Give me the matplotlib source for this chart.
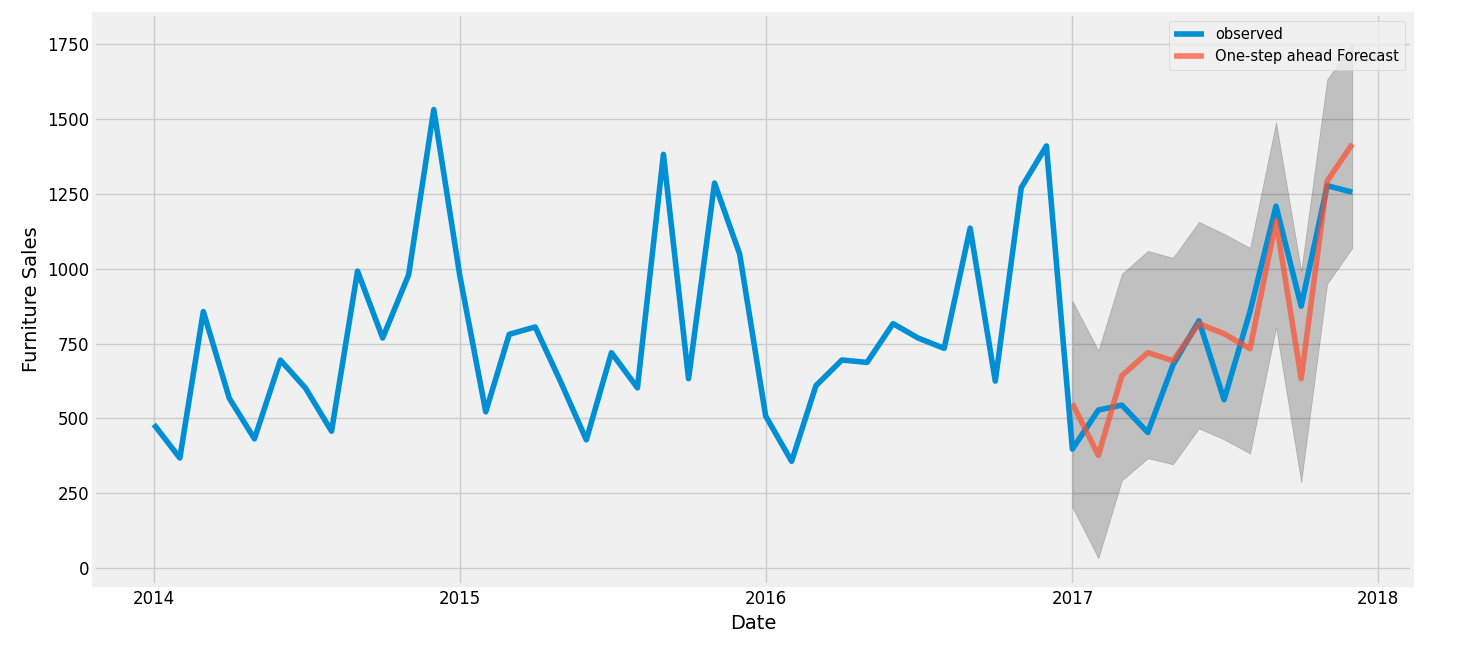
import matplotlib
matplotlib.use("Agg")
import matplotlib.pyplot as plt
import pandas as pd

plt.style.use('fivethirtyeight')

# monthly average furniture sales
dates = pd.date_range('2014-01-01', '2017-12-01', freq='MS')
observed = [480.2, 367.9, 857.3, 567.5, 432.0, 695.1, 601.2, 457.5, 992.4, 769.0, 980.2, 1532.3,
            978.3, 522.4, 781.2, 805.8, 625.0, 428.6, 719.7, 602.4, 1382.8, 633.0, 1286.7, 1049.4,
            508.2, 356.9, 609.6, 695.4, 687.3, 816.9, 768.7, 734.3, 1136.0, 624.9, 1271.3, 1410.7,
            397.6, 528.2, 544.7, 453.3, 678.3, 826.5, 562.5, 857.9, 1209.5, 875.4, 1277.8, 1256.3]

# one-step ahead forecast for 2017
pred_dates = pd.date_range('2017-01-01', '2017-12-01', freq='MS')
pred_mean = [550, 377, 643, 720, 693, 817, 783, 733, 1160, 633, 1293, 1417]
ci_lower = [203, 33, 293, 367, 347, 467, 430, 383, 803, 287, 950, 1070]
ci_upper = [893, 727, 983, 1060, 1037, 1157, 1117, 1070, 1490, 993, 1633, 1753]

y = pd.Series(observed, index=dates)
pred = pd.Series(pred_mean, index=pred_dates)

fig = plt.figure(figsize=(14.68, 6.48), dpi=100, facecolor='white')
ax = fig.add_axes([0.064, 0.097, 0.898, 0.882])

ax.plot(y.index, y.values, label='observed', linewidth=4)
ax.plot(pred.index, pred.values, label='One-step ahead Forecast', alpha=.7, linewidth=4)
ax.fill_between(pred_dates, ci_lower, ci_upper, color='k', alpha=.2)

ax.set_xticks(pd.to_datetime(['2014-01-01', '2015-01-01', '2016-01-01', '2017-01-01', '2018-01-01']))
ax.set_xticklabels(['2014', '2015', '2016', '2017', '2018'])
ax.set_yticks([0, 250, 500, 750, 1000, 1250, 1500, 1750])
ax.set_ylim(-57, 1853)
ax.tick_params(labelsize=12)

ax.set_xlabel('Date', fontsize=14)
ax.set_ylabel('Furniture Sales', fontsize=14)
ax.legend(loc='upper right', fontsize=10.5)

fig.savefig('out.png', dpi=100, facecolor='white')
